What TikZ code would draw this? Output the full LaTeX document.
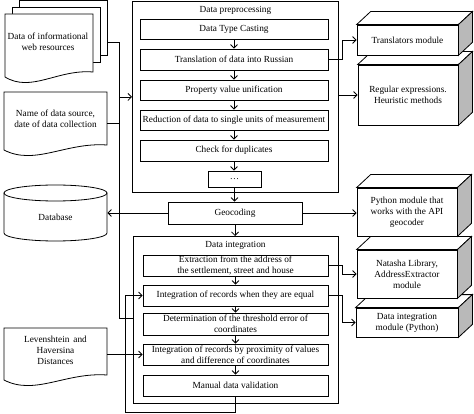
\documentclass[tikz,border=0pt]{standalone}
\usepackage{fontspec}
\setmainfont{Liberation Serif}
\usetikzlibrary{arrows.meta,calc}
\newcommand\dfont{\fontsize{9.3}{11}\selectfont}
\newcommand\mycube[5]{%
  \node[box, minimum width=#3, minimum height=#4] (#1) at #2 {#5};
  \draw[fill=white] (#1.north west) -- ++(14,-13) -- ($(#1.north east)+(14,-13)$) -- (#1.north east) -- cycle;
  \draw[fill=gray!55] (#1.north east) -- ++(14,-13) -- ($(#1.south east)+(14,-13)$) -- (#1.south east) -- cycle;
}
\begin{document}
\begin{tikzpicture}[x=1pt,y=-1pt, line width=0.8pt,
  arr/.style={-{Straight Barb[length=3.5pt,width=7pt]}},
  box/.style={draw, fill=white, inner sep=0pt, align=center, font=\dfont},
  txt/.style={inner sep=0pt, align=center, font=\dfont},
  frame/.style={draw, inner sep=0pt, anchor=north west}]
\useasboundingbox (0,0) rectangle (474,414);

% ---- left: stacked documents
\node[frame, fill=white, minimum width=88pt, minimum height=54.5pt] (l3) at (19,0.5) {};
\node[frame, fill=white, minimum width=88pt, minimum height=55pt] (l2) at (12,7) {};
\draw[fill=white] (5,14) -- (93,14) -- (93,72) .. controls (57.8,69) and (31.4,93) .. (5,77) -- cycle;
\node[txt] (web) at (48,42) {Data of informational\\web resources};

% name of data source
\draw[fill=white] (4,92) -- (107,92) -- (107,145) .. controls (65.8,142) and (34.9,166) .. (4,150) -- cycle;
\node[txt, minimum width=103pt] (nm) at (55.5,118.5) {Name of data source,\\date of data collection};

% database
\draw[fill=white] (4,193) -- (4,233) arc[start angle=180,end angle=360,x radius=51.5pt,y radius=8pt] -- (107,193) -- cycle;
\draw[fill=white] (55.5,193) ellipse [x radius=51.5pt, y radius=8pt];
\node[txt, minimum width=103pt] (db) at (55.5,217) {Database};

% Levenshtein
\draw[fill=white] (4,328) -- (107,328) -- (107,375) .. controls (65.8,372) and (34.9,396) .. (4,380) -- cycle;
\node[txt, minimum width=103pt] (lev) at (55.5,350.5) {Levenshtein\, and\\Haversina\\Distances};

% ---- data preprocessing
\node[frame, minimum width=206pt, minimum height=191pt] (pre) at (132,1) {};
\node[txt] (pret) at (235.5,10) {Data preprocessing};
\node[box, minimum width=188pt, minimum height=20pt] (dtc) at (234,29) {Data Type Casting};
\node[box, minimum width=188pt, minimum height=21pt] (tr) at (234,59.5) {Translation of data into Russian};
\node[box, minimum width=188pt, minimum height=20pt] (pvu) at (234,90) {Property value unification};
\node[box, minimum width=188pt, minimum height=20pt] (red) at (234,120) {Reduction of data to single units of measurement};
\node[box, minimum width=188pt, minimum height=21pt] (chk) at (234,150.5) {Check for duplicates};
\node[box, minimum width=53pt, minimum height=16pt] (dots) at (234.5,179) {\dots};
\draw[arr] (dtc) -- (tr);
\draw[arr] (tr) -- (pvu);
\draw[arr] (pvu) -- (red);
\draw[arr] (red) -- (chk);
\draw[arr] (chk.south) -- (chk.south |- dots.north);

% ---- geocoding
\node[box, minimum width=134pt, minimum height=22pt] (geo) at (235,213) {Geocoding};
\draw[arr] (dots.south) -- (dots.south |- geo.north);

% ---- data integration
\node[frame, minimum width=205pt, minimum height=167pt] (di) at (133,236) {};
\node[txt] (dit) at (235.5,245) {Data integration};
\node[box, minimum width=185pt, minimum height=21pt] (ex) at (235.5,265.5) {Extraction from the address of\\the settlement, street and house};
\node[box, minimum width=185pt, minimum height=21pt] (eq) at (235.5,295.5) {Integration of records when they are equal};
\node[box, minimum width=185pt, minimum height=22pt] (det) at (235.5,324) {Determination of the threshold error of\\coordinates};
\node[box, minimum width=185pt, minimum height=21pt] (prox) at (235.5,354.5) {Integration of records by proximity of values\\and difference of coordinates};
\node[box, minimum width=185pt, minimum height=21pt] (man) at (235.5,385.5) {Manual data validation};
\draw[arr] (geo.south) -- (geo.south |- di.north);
\draw[arr] (ex) -- (eq);
\draw[arr] (eq) -- (det);
\draw[arr] (det) -- (prox);
\draw[arr] (prox) -- (man);

% ---- right: 3D boxes (lowest first)
\mycube{dim}{(407,322.5)}{102pt}{29pt}{Data integration\\module (Python)}
\mycube{nat}{(407,274)}{100pt}{48pt}{Natasha Library,\\AddressExtractor\\module}
\mycube{py}{(407,212)}{100pt}{48pt}{Python module that\\works with the API\\geocoder}
\mycube{rgx}{(408,95)}{100pt}{60pt}{Regular expressions.\\Heuristic methods}
\mycube{tm}{(407.5,40)}{101pt}{30pt}{Translators module}

% ---- connectors left
\coordinate (J1) at (119,42);
\coordinate (J2) at (119,318);
\coordinate (J3) at (119,97);
\coordinate (L) at (125,412);
\draw (l3.east |- J1) -- (J1) -- (J2) -- (J2 -| di.west);
\draw[arr] (J3) -- (J3 -| pre.west);
\draw ([yshift=-5pt]nm.east) -- ([yshift=-5pt]nm.east -| J1);
\draw[arr] (geo.west) -- (geo.west -| db.east);
\draw[arr] (lev.east |- prox) -- (prox.west);
\draw[arr] (man.south) |- (L) |- (eq.west);

% ---- connectors right
\draw[arr] (tr.east) -- ++(14,0) |- (tm.west);
\draw[arr] (pre.east |- rgx) -- (rgx.west);
\draw[arr] (geo.east) -- (geo.east -| py.west);
\draw[arr] (ex.east) -- ++(14,0) |- (nat.west);
\draw[arr] (eq.east) -- ++(14,0) |- (dim.west);
\end{tikzpicture}
\end{document}
